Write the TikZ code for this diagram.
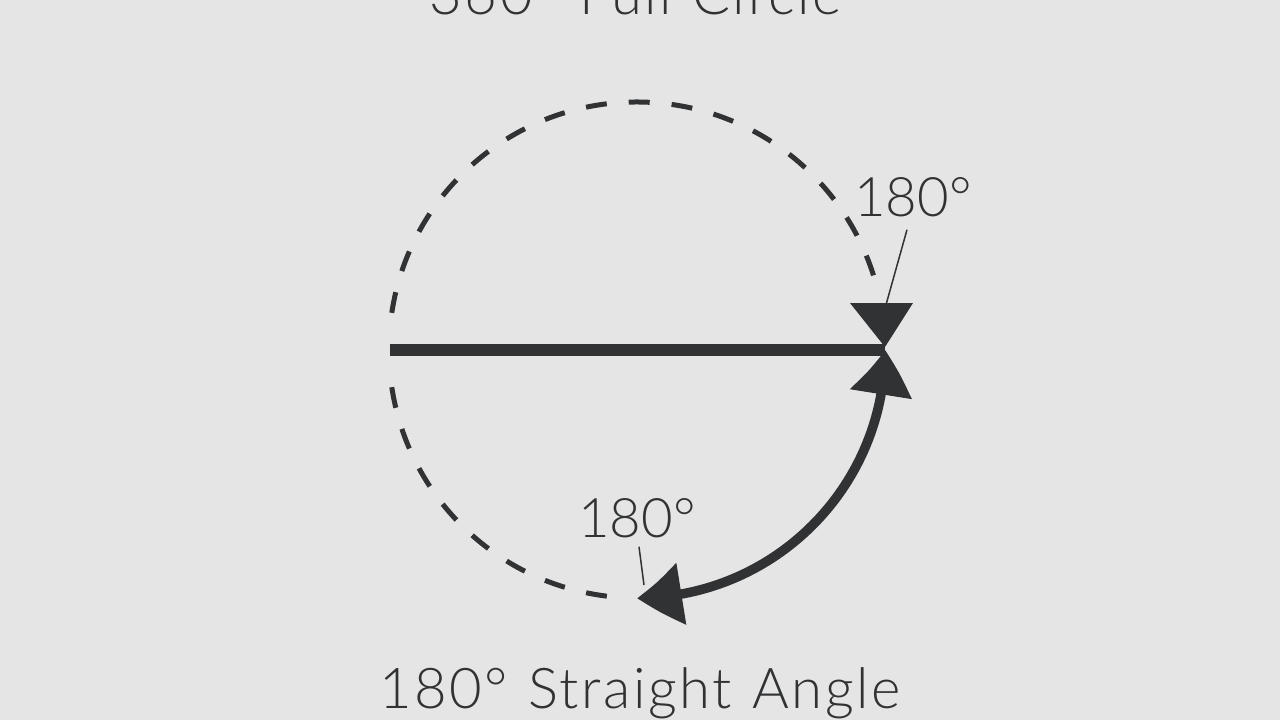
\documentclass[tikz,border=0pt]{standalone}
\usepackage{fontspec}
\setmainfont{Lato}[UprightFont=* Light]
\newfontfamily\ttlfont{Lato}[UprightFont=* Light, LetterSpace=4.5, WordSpace=1.15]
\usetikzlibrary{arrows.meta,bending}
\definecolor{ink}{RGB}{48,50,52}
\definecolor{paper}{RGB}{229,229,229}

\begin{document}
\begin{tikzpicture}[
		every node/.style = {
			text=ink, inner sep=0pt, outer sep=0pt,
			font=\fontsize{31}{36}\selectfont
		},
		title/.style = {anchor=base, font=\ttlfont\fontsize{32}{38}\selectfont},
		dashring/.style = {draw=ink, line width=0.1cm, dash pattern=on 0.42cm off 0.44cm, dash phase=0.46cm},
		ray/.style = {draw=ink, line width=0.24cm},
		sweep/.style = {draw=ink, line width=0.19cm,
			{Triangle[length=0.9cm,width=1.2cm,bend]}-{Triangle[length=0.9cm,width=1.2cm,bend]}},
		leader/.style = {draw=ink, line width=0.03cm}
		]
		\fill[paper] (-12.74,-7.4) rectangle (12.86,7);
		\useasboundingbox (-12.74,-7.4) rectangle (12.86,7);
		\coordinate (o) at (0,0);
		\coordinate (rayStart) at (-4.94,0);
		\coordinate (rayEnd) at (4.96,0);
		\coordinate (sweepStart) at (-90:4.96);
		\draw[dashring] (176:4.96) arc[start angle=176, end angle=14.5, radius=4.96];
		\draw[dashring] (184:4.96) arc[start angle=184, end angle=264, radius=4.96];
		\draw[ray] (rayStart) -- (rayEnd);
		\fill[ink] (4.26,0.94) -- (5.52,0.94) -- ([yshift=0.06cm]rayEnd) -- cycle;
		\draw[sweep] (sweepStart) arc[start angle=-90, end angle=0, radius=4.96];
		\node (lblTop) at (5.52,3.06) {180°};
		\node (lblBot) at (0,-3.36) {180°};
		\draw[leader] ([xshift=-0.12cm,yshift=-0.26cm]lblTop.south) -- (4.99,0.94);
		\draw[leader] ([xshift=0.04cm,yshift=-0.18cm]lblBot.south) -- (0.14,-4.7);
		\node[title] (ttlTop) at (-0.02,6.7) {360° Full Circle};
		\node[title] (ttlBot) at (0.06,-7.16) {180° Straight Angle};
	\end{tikzpicture}
\end{document}
